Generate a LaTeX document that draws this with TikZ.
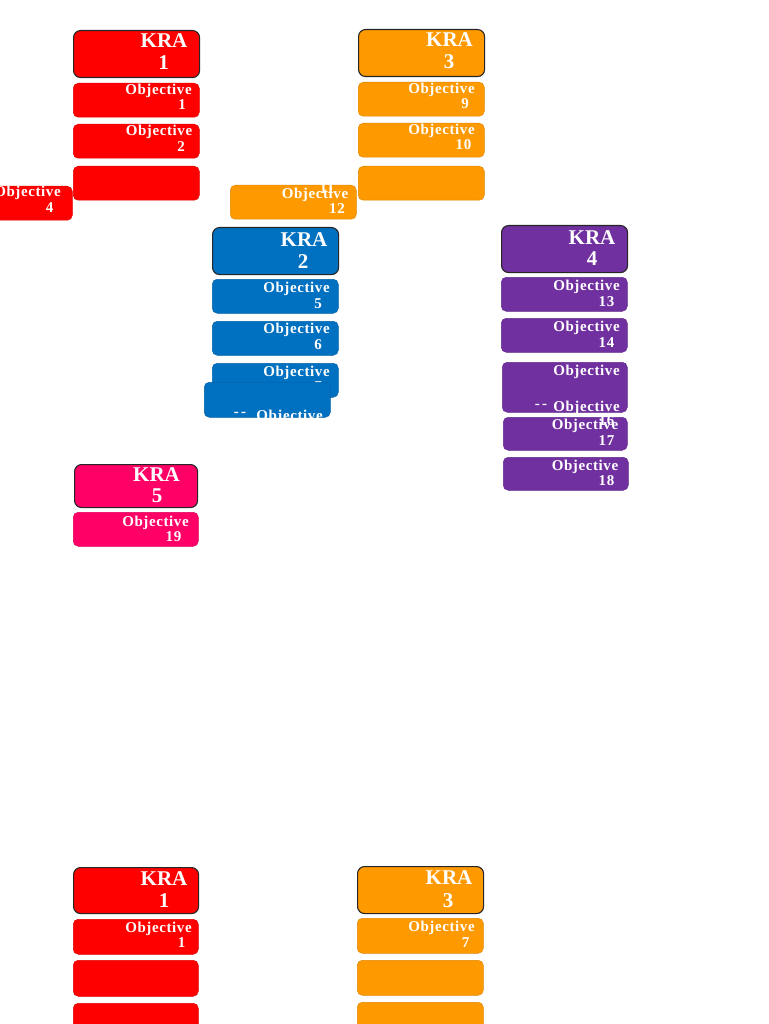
\documentclass[tikz,border=0pt]{standalone}
\usepackage{fontspec}
\setmainfont{Liberation Serif}
\newfontfamily\objfont[LetterSpace=4.0]{Liberation Serif}
\definecolor{kred}{RGB}{255,0,0}
\definecolor{korange}{RGB}{255,153,0}
\definecolor{kblue}{RGB}{0,112,192}
\definecolor{kpurple}{RGB}{112,48,160}
\definecolor{kpink}{RGB}{255,0,102}
\tikzset{
  kra/.style={rounded corners=7pt, fill=#1, draw=black!85, line width=1.1pt, minimum width=126pt, minimum height=47pt, inner sep=0pt, anchor=north west},
  obj/.style={rounded corners=5pt, fill=#1, draw=#1!88!black, line width=0.5pt, minimum width=126pt, minimum height=34pt, inner sep=0pt, anchor=north west},
  ktxt/.style={text=white, inner sep=0pt, anchor=base, font=\bfseries\fontsize{21}{21}\selectfont},
  otxt/.style={text=white, inner sep=0pt, anchor=base, font=\objfont\bfseries\fontsize{15}{15}\selectfont},
}
\begin{document}
\begin{tikzpicture}[x=1pt,y=-1pt]
\useasboundingbox (0,0) rectangle (768,1024);
\fill[white] (0,0) rectangle (768,1024);

% ---------- KRA 1 (red) ----------
\node[kra=kred] (k1) at (73,30) {};
\node[ktxt] (k1a) at (164,48) {KRA};
\node[ktxt] (k1b) at (163.5,70) {1};
\node[obj=kred] (o1) at (73,83) {};
\node[otxt] (o1a) at (158.5,95) {Objective};
\node[otxt] (o1b) at (182,110) {1};
\node[obj=kred] (o2) at (73,124) {};
\node[otxt] (o2a) at (159,136) {Objective};
\node[otxt] (o2b) at (181,152) {2};
\node[obj=kred] (o3) at (73,166) {};
\node[obj=kred] (o4) at (-54,186) {};
\node[otxt] (o4a) at (27.5,197) {Objective};
\node[otxt] (o4b) at (49.5,213) {4};

% ---------- Objective 12 (orange) ----------
\node[obj=korange] (o12) at (230,185) {};
\node[otxt] (o12a) at (315,199) {Objective};
\node[otxt] (o12b) at (337,214) {12};
\node[otxt] (o12c) at (327,194) {11};

% ---------- KRA 3 (orange) ----------
\node[kra=korange] (k3) at (358,29) {};
\node[ktxt] (k3a) at (449.5,47) {KRA};
\node[ktxt] (k3b) at (449,69) {3};
\node[obj=korange] (o9) at (358,82) {};
\node[otxt] (o9a) at (441.5,94) {Objective};
\node[otxt] (o9b) at (465,109) {9};
\node[obj=korange] (o10) at (358,123) {};
\node[otxt] (o10a) at (441.5,134.5) {Objective};
\node[otxt] (o10b) at (463.5,150) {10};
\node[obj=korange] (o11) at (358,166) {};

% ---------- KRA 2 (blue) ----------
\node[kra=kblue] (k2) at (212,227) {};
\node[ktxt] (k2a) at (304,246) {KRA};
\node[ktxt] (k2b) at (303,268) {2};
\node[obj=kblue] (o5) at (212,279) {};
\node[otxt] (o5a) at (296.5,292) {Objective};
\node[otxt] (o5b) at (318,308) {5};
\node[obj=kblue] (o6) at (212,321) {};
\node[otxt] (o6a) at (296.5,333.5) {Objective};
\node[otxt] (o6b) at (318,349) {6};
\node[obj=kblue] (o7) at (212,363) {};
\node[otxt] (o7a) at (296.5,376) {Objective};
\node[otxt] (o7b) at (318,391) {7};
\node[obj=kblue, minimum height=35pt] (o8) at (204,382) {};
\node[otxt] (o8a) at (240,416) {-\,-};
\node[otxt] (o8b) at (289.5,420) {Objective};

% ---------- KRA 4 (purple) ----------
\node[kra=kpurple] (k4) at (501,225) {};
\node[ktxt] (k4a) at (592,244.5) {KRA};
\node[ktxt] (k4b) at (592,265.5) {4};
\node[obj=kpurple] (o13) at (501,277) {};
\node[otxt] (o13a) at (586.5,290) {Objective};
\node[otxt] (o13b) at (606.5,306) {13};
\node[obj=kpurple] (o14) at (501,318) {};
\node[otxt] (o14a) at (586.5,331) {Objective};
\node[otxt] (o14b) at (606.5,347) {14};
\node[obj=kpurple, minimum width=125pt, minimum height=50pt] (o15) at (502,362) {};
\node[otxt] (o15a) at (586.5,375.5) {Objective};
\node[otxt] (o15b) at (541,408) {-\,-};
\node[otxt] (o15c) at (586.5,411) {Objective};
\node[obj=kpurple, minimum width=124pt, minimum height=33pt] (o17) at (503,417) {};
\node[otxt] (o17a) at (585,429) {Objective};
\node[otxt] (o17b) at (606.5,445) {17};
\node[otxt] (o16) at (606.5,425) {16};
\node[obj=kpurple, minimum width=125pt, minimum height=33pt] (o18) at (503,457) {};
\node[otxt] (o18a) at (585,470) {Objective};
\node[otxt] (o18b) at (606.5,485) {18};

% ---------- KRA 5 (pink) ----------
\node[kra=kpink, minimum width=123pt, minimum height=43pt] (k5) at (74,464) {};
\node[ktxt] (k5a) at (156.5,481) {KRA};
\node[ktxt] (k5b) at (157,502) {5};
\node[obj=kpink, minimum width=125pt] (o19) at (73,512) {};
\node[otxt] (o19a) at (155.5,526) {Objective};
\node[otxt] (o19b) at (173.5,541) {19};

% ---------- bottom KRA 1 ----------
\node[kra=kred, minimum width=125pt, minimum height=46pt] (bk1) at (73,867) {};
\node[ktxt] (bk1a) at (164,885) {KRA};
\node[ktxt] (bk1b) at (164,907) {1};
\node[obj=kred, minimum width=125pt, minimum height=35pt] (bo1) at (73,919) {};
\node[otxt] (bo1a) at (158.5,932) {Objective};
\node[otxt] (bo1b) at (181.5,947) {1};
\node[obj=kred, minimum width=125pt, minimum height=36pt] (bo2) at (73,960) {};
\node[obj=kred, minimum width=125pt, minimum height=36pt] (bo3) at (73,1003) {};

% ---------- bottom KRA 3 ----------
\node[kra=korange, minimum height=47pt] (bk3) at (357,866) {};
\node[ktxt] (bk3a) at (449,884) {KRA};
\node[ktxt] (bk3b) at (448,907) {3};
\node[obj=korange, minimum height=35pt] (bo7) at (357,918) {};
\node[otxt] (bo7a) at (441.5,931) {Objective};
\node[otxt] (bo7b) at (465.5,947) {7};
\node[obj=korange, minimum height=35pt] (bo8) at (357,960) {};
\node[obj=korange, minimum height=35pt] (bo9) at (357,1002) {};
\end{tikzpicture}
\end{document}
